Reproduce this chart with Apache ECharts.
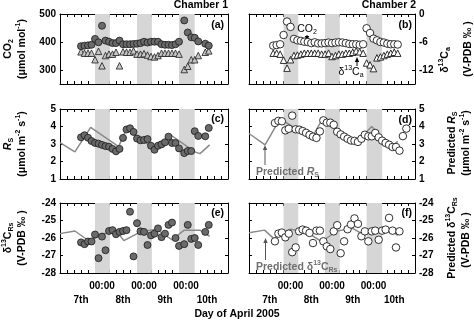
<!DOCTYPE html>
<html><head><meta charset="utf-8">
<script src="https://cdn.jsdelivr.net/npm/echarts@6/dist/echarts.min.js"></script>
<style>html,body{margin:0;padding:0;background:#fff}#c{width:474px;height:322px}</style>
</head><body><div id="c"></div>
<script>
// ---------- axis / annotation values ----------
const nightStart = [20, 44, 68];
const nightEnd = [28.5, 52.5, 77];
const dayLabels = ['7th', '8th', '9th', '10th'];
const dayLabelHours = [12, 36, 60, 84];
const midnightHours = [24, 48, 72];
const midnightLabel = '00:00';
const timeTicks = [0,4,8,12,16,20,24,28,32,36,40,44,48,52,56,60,64,68,72,76,80,84,88,92,96];
const co2Ticks = [300, 400, 500];
const d13aTicks = [-12, -6, 0];
const rsTicks = [1, 2, 3, 4, 5];
const d13rsTicks = [-28, -27, -26, -25, -24];

// ---------- Chamber 1 (hours after 7 April 00:00) ----------
const timesC1 = [12,14,16,18,20,22,24,26,28,30,32,34,36,38,40,42,44,46,48,50,52,54,56,58,60,62,64,66,68,71,73,75,77,79,83,85];
const co2C1 = [385,387,388,390,411,399,458,405,401,396,396,405,392,392,392,393,394,396,401,398,401,401,401,392,390,390,389,392,401,477,434,417,415,402,394,387];
const d13aC1 = [-8.1,-8.4,-8.4,-8.4,-9.8,-8.0,-11.1,-8.9,-8.6,-8.6,-8.2,-11.1,-8.1,-8.2,-8.2,-7.9,-8.6,-8.6,-8.5,-8.8,-9.1,-9.2,-8.9,-8.4,-8.4,-8.4,-8.4,-8.4,-8.6,-11.9,-11.2,-9.8,-9.8,-8.9,-8.2,-7.9];
const rsC1 = [3.38,3.5,3.36,3.17,3.06,3.02,2.95,2.88,2.85,2.72,2.58,2.72,3.35,3.83,3.9,3.69,3.31,3.21,3.23,3.28,2.9,2.67,2.9,2.98,3.1,3.42,3.06,3.06,2.75,2.48,2.6,2.6,3.73,3.46,3.44,3.92];
const d13rsC1 = [-26.25,-26.35,-26.2,-26.2,-25.8,-27.15,-25.92,-26.7,-25.6,-25.55,-25.78,-25.65,-25.6,-25.55,-24.5,-27.05,-25.15,-25.62,-25.65,-26.4,-25.85,-25.75,-25.45,-25.95,-25.75,-25.25,-25.12,-26.0,-26.45,-26.35,-25.25,-26.05,-26.0,-26.4,-25.65,-25.25];
const predRsTimesC1 = [0,8.5,17.5,33.5,38,50,53.5,57,63.5,77,80,85.5];
const predRsC1 = [3.08,2.55,3.95,2.85,3.85,3.0,2.6,2.95,3.5,2.55,2.45,2.95];
const predD13TimesC1 = [0,8.5,17,24,33,36.5,46,55,64,71,80,85.5];
const predD13C1 = [-25.75,-25.6,-26.2,-25.75,-25.7,-26.15,-25.65,-25.5,-26.1,-25.55,-25.55,-25.9];

// ---------- Chamber 2 ----------
const timesC2 = [14,16,18,20,22,24,26,28,30,32,34,36,38,40,42,44,46,48,50,52,54,56,58,60,62,64,66,68,70,72,74,76,78,80,82,84,86];
const co2C2 = [387,389,392,425,473,454,411,406,404,401,400,396,399,395,395,396,398,396,398,399,398,396,393,392,392,390,392,449,432,412,406,400,398,394,392,392,391];
const d13aC2 = [-8.4,-8.4,-8.6,-9.9,-11.6,-9.8,-8.9,-8.8,-8.6,-8.4,-8.4,-8.4,-8.4,-8.4,-8.6,-8.6,-8.4,-9.1,-8.9,-8.6,-8.6,-8.4,-8.4,-8.2,-7.9,-8.1,-8.4,-10.5,-10.9,-11.7,-9.4,-9.2,-8.9,-8.6,-8.4,-8.2,-8.4];
const rsTimesC2 = [15,17,19,21,23,25,27,29,31,33,35,37,39,41,43,45,47,49,51,53,55,57,59,61,63,65,67,69,71,73,75,77,79,81,83,85,87,89,91];
const rsC2 = [4.2,4.32,4.3,3.78,3.87,4.62,3.84,3.82,3.74,3.64,3.52,3.42,3.35,3.72,4.35,4.22,4.22,4.1,3.7,3.55,3.42,3.3,3.2,3.18,3.12,3.3,3.53,3.44,3.44,3.63,3.38,3.19,3.06,2.96,2.83,2.83,2.62,3.45,3.88];
const d13TimesC2 = [15,17,19,21,23,25,27,29,31,33,35,37,39,41,43,45,47,49,51,53,55,57,59,61,63,65,67,69,71,73,75,77,79,81,83,85,87];
const d13rsC2 = [-26.19,-25.75,-25.69,-25.96,-25.75,-26.81,-26.54,-25.62,-25.52,-25.58,-25.71,-26.29,-25.58,-25.58,-26.19,-26.48,-26.63,-25.62,-25.27,-26.87,-26.19,-25.5,-25.23,-24.88,-25.19,-25.9,-25.62,-26.19,-25.62,-25.58,-26.1,-25.58,-25.52,-24.85,-25.58,-26.54,-25.62];
const predRsTimesC2 = [0,9.3,18,36,42,62,71,82,86];
const predRsC2 = [3.6,2.95,4.45,3.3,4.35,3.1,4.0,2.8,3.15];
const predD13TimesC2 = [0,9,14.5,24,33,42,51,60,66,73,81,86];
const predD13C2 = [-25.7,-25.55,-26.05,-25.5,-25.65,-26.2,-25.6,-25.45,-25.8,-25.6,-25.5,-25.85];

// ---------- build ----------
const FONT = "'Liberation Sans', Arial, Helvetica, sans-serif";
const zip = (xs, ys) => xs.map((x, i) => [x, ys[i]]);
const bands = nightStart.map((s, i) => [{xAxis: s}, {xAxis: nightEnd[i]}]);

const gridPos = [
  {left: 60, top: 14, width: 168, height: 70},
  {left: 249, top: 14, width: 166, height: 70},
  {left: 60, top: 109, width: 168, height: 70},
  {left: 249, top: 109, width: 166, height: 70},
  {left: 60, top: 203, width: 168, height: 70},
  {left: 249, top: 203, width: 166, height: 70}
];
const rowY = [
  {l: [250, 500, co2Ticks], r: [-15, 0, d13aTicks]},
  {l: [1, 5, rsTicks], r: [1, 5, rsTicks]},
  {l: [-28, -24, d13rsTicks], r: [-28, -24, d13rsTicks]}
];
const axLine = {show: true, onZero: false, lineStyle: {color: '#000', width: 1}};
const labelFont = {fontFamily: FONT, fontSize: 10, fontWeight: 'bold', color: '#000'};

const xAxis = [], yAxis = [];
gridPos.forEach((g, i) => {
  const row = Math.floor(i / 2), col = i % 2;
  const showX = row === 2;
  xAxis.push({
    type: 'value', gridIndex: i, position: 'bottom', min: 0, max: 96,
    axisLine: axLine, splitLine: {show: false},
    axisTick: {show: true, inside: true, length: 3, customValues: timeTicks, lineStyle: {color: '#000'}},
    axisLabel: Object.assign({show: showX, margin: 6, lineHeight: 14,
      customValues: midnightHours.concat(dayLabelHours),
      formatter: v => {
        const m = midnightHours.indexOf(v);
        if (m >= 0) return midnightLabel;
        const d = dayLabelHours.indexOf(v);
        if (d >= 0) return '\n' + dayLabels[d];
        return '';
      }}, labelFont)
  });
  xAxis.push({
    type: 'value', gridIndex: i, position: 'top', min: 0, max: 96,
    axisLine: axLine, splitLine: {show: false},
    axisTick: {show: true, inside: true, length: 3, customValues: timeTicks, lineStyle: {color: '#000'}},
    axisLabel: {show: false}
  });
  ['l', 'r'].forEach(side => {
    const [mn, mx, ticks] = rowY[row][side];
    const show = (side === 'l' && col === 0) || (side === 'r' && col === 1);
    yAxis.push({
      type: 'value', gridIndex: i, position: side === 'l' ? 'left' : 'right',
      min: mn, max: mx, axisLine: axLine, splitLine: {show: false},
      axisTick: {show: true, inside: true, length: 3, customValues: ticks, lineStyle: {color: '#000'}},
      axisLabel: Object.assign({show: show, margin: 4, customValues: ticks}, labelFont)
    });
  });
});

const filledCircle = {symbol: 'circle', symbolSize: 7,
  itemStyle: {color: '#6a6a6a', borderColor: '#1a1a1a', borderWidth: 0.8, opacity: 1}};
const hollowCircle = {symbol: 'circle', symbolSize: 7.5,
  itemStyle: {color: '#fff', borderColor: '#1a1a1a', borderWidth: 0.9, opacity: 1}};
const greyTri = {symbol: 'triangle', symbolSize: 6.5,
  itemStyle: {color: '#c6c6c6', borderColor: '#1a1a1a', borderWidth: 0.8, opacity: 1}};
const whiteTri = {symbol: 'triangle', symbolSize: 6.5,
  itemStyle: {color: '#fff', borderColor: '#1a1a1a', borderWidth: 0.9, opacity: 1}};
const predLine = {type: 'line', showSymbol: false, symbol: 'none', z: 2,
  lineStyle: {color: '#8a8a8a', width: 1.5}};

const series = [];
for (let i = 0; i < 6; i++) {
  series.push({type: 'line', xAxisIndex: 2 * i, yAxisIndex: 2 * i, data: [], z: 1, silent: true,
    markArea: {silent: true, itemStyle: {color: '#d6d6d6'}, data: bands}});
}
function sc(i, yIdx, data, style) {
  return Object.assign({type: 'scatter', xAxisIndex: 2 * i, yAxisIndex: yIdx, data: data, z: 3, silent: true}, style);
}
function ln(i, yIdx, data) {
  return Object.assign({xAxisIndex: 2 * i, yAxisIndex: yIdx, data: data, silent: true}, predLine);
}
// (a)
series.push(sc(0, 1, zip(timesC1, d13aC1), greyTri));
series.push(sc(0, 0, zip(timesC1, co2C1), filledCircle));
// (b)
series.push(sc(1, 3, zip(timesC2, d13aC2), whiteTri));
series.push(sc(1, 2, zip(timesC2, co2C2), hollowCircle));
// (c)
series.push(ln(2, 4, zip(predRsTimesC1, predRsC1)));
series.push(sc(2, 4, zip(timesC1, rsC1), filledCircle));
// (d)
series.push(ln(3, 7, zip(predRsTimesC2, predRsC2)));
series.push(sc(3, 7, zip(rsTimesC2, rsC2), hollowCircle));
// (e)
series.push(ln(4, 8, zip(predD13TimesC1, predD13C1)));
series.push(sc(4, 8, zip(timesC1, d13rsC1), filledCircle));
// (f)
series.push(ln(5, 11, zip(predD13TimesC2, predD13C2)));
series.push(sc(5, 11, zip(d13TimesC2, d13rsC2), hollowCircle));

// ---------- text / graphic ----------
const rich = {
  b: {fontFamily: FONT, fontSize: 10.5, fontWeight: 'bold', lineHeight: 14},
  bi: {fontFamily: FONT, fontSize: 10.5, fontWeight: 'bold', fontStyle: 'italic', lineHeight: 14},
  n: {fontFamily: FONT, fontSize: 10.5, lineHeight: 14},
  sub: {fontFamily: FONT, fontSize: 7, fontWeight: 'bold', lineHeight: 7, verticalAlign: 'bottom'},
  subn: {fontFamily: FONT, fontSize: 7, lineHeight: 7, verticalAlign: 'bottom'},
  sup: {fontFamily: FONT, fontSize: 7, fontWeight: 'bold', lineHeight: 7, verticalAlign: 'top'},
  supn: {fontFamily: FONT, fontSize: 7, lineHeight: 7, verticalAlign: 'top'}
};
function txt(x, y, text, opt) {
  opt = opt || {};
  return {type: 'text', x: x, y: y, rotation: opt.rot ? Math.PI / 2 : 0, z: 10, silent: true,
    style: {text: text, rich: rich, fill: opt.color || '#000', align: opt.align || 'center', verticalAlign: 'middle',
      font: 'bold 10.5px ' + FONT}};
}
function arrow(x, yFrom, yTip, color) {
  const dir = yTip > yFrom ? 1 : -1;
  return {type: 'group', silent: true, z: 10, children: [
    {type: 'line', shape: {x1: x, y1: yFrom, x2: x, y2: yTip - dir * 4}, style: {stroke: color, lineWidth: 1}},
    {type: 'polygon', shape: {points: [[x - 2.2, yTip - dir * 5], [x + 2.2, yTip - dir * 5], [x, yTip]]}, style: {fill: color}}
  ]};
}
const units1 = '{b|(μmol mol}{sup|-1}{b|)}';
const units2 = '{b|(μmol m}{sup|-2}{b| s}{sup|-1}{b|)}';
const units3 = '{b|(V-PDB ‰ )}';
const graphic = [
  txt(228, 5, '{b|Chamber 1}', {align: 'right'}),
  txt(416, 5, '{b|Chamber 2}', {align: 'right'}),
  txt(224, 25, '{b|(a)}', {align: 'right'}),
  txt(412, 25, '{b|(b)}', {align: 'right'}),
  txt(224, 119, '{b|(c)}', {align: 'right'}),
  txt(412, 120, '{b|(d)}', {align: 'right'}),
  txt(224, 213, '{b|(e)}', {align: 'right'}),
  txt(412, 213, '{b|(f)}', {align: 'right'}),
  // left titles
  txt(8, 49, '{b|CO}{sub|2}', {rot: true}),
  txt(22, 49, units1, {rot: true}),
  txt(8, 144, '{bi|R}{sub|S}', {rot: true}),
  txt(22, 144, units2, {rot: true}),
  txt(8, 238, '{b|δ}{sup|13}{b|C}{sub|Rs}', {rot: true}),
  txt(22, 238, units3, {rot: true}),
  // right titles
  txt(445, 60, '{b|δ}{sup|13}{b|C}{sub|a}', {rot: true}),
  txt(468, 49, units3, {rot: true}),
  txt(452, 143, '{b|Predicted }{bi|R}{sub|S}', {rot: true}),
  txt(466, 143, units2, {rot: true}),
  txt(452, 238, '{b|Predicted δ}{sup|13}{b|C}{sub|Rs}', {rot: true}),
  txt(466, 240, units3, {rot: true}),
  // x title
  txt(237, 314, '{b|Day of April 2005}'),
  // annotations
  txt(307, 29, '{n|CO}{subn|2}'),
  arrow(307, 35, 41, '#000'),
  txt(351, 72, '{n|δ}{supn|13}{n|C}{subn|a}'),
  arrow(357, 66, 57, '#000'),
  txt(256, 172, '{b|Predicted }{bi|R}{sub|S}', {align: 'left', color: '#6e6e6e'}),
  arrow(265, 165, 145, '#555'),
  txt(256, 267, '{b|Predicted δ}{sup|13}{b|C}{sub|Rs}', {align: 'left', color: '#6e6e6e'}),
  arrow(265.5, 260, 238, '#555')
];

const chart = echarts.init(document.getElementById('c'), null, {renderer: 'canvas'});
chart.setOption({
  animation: false,
  backgroundColor: '#fff',
  grid: gridPos.map(g => Object.assign({show: false, containLabel: false}, g)),
  xAxis: xAxis,
  yAxis: yAxis,
  series: series,
  graphic: graphic
});
</script>
</body></html>
